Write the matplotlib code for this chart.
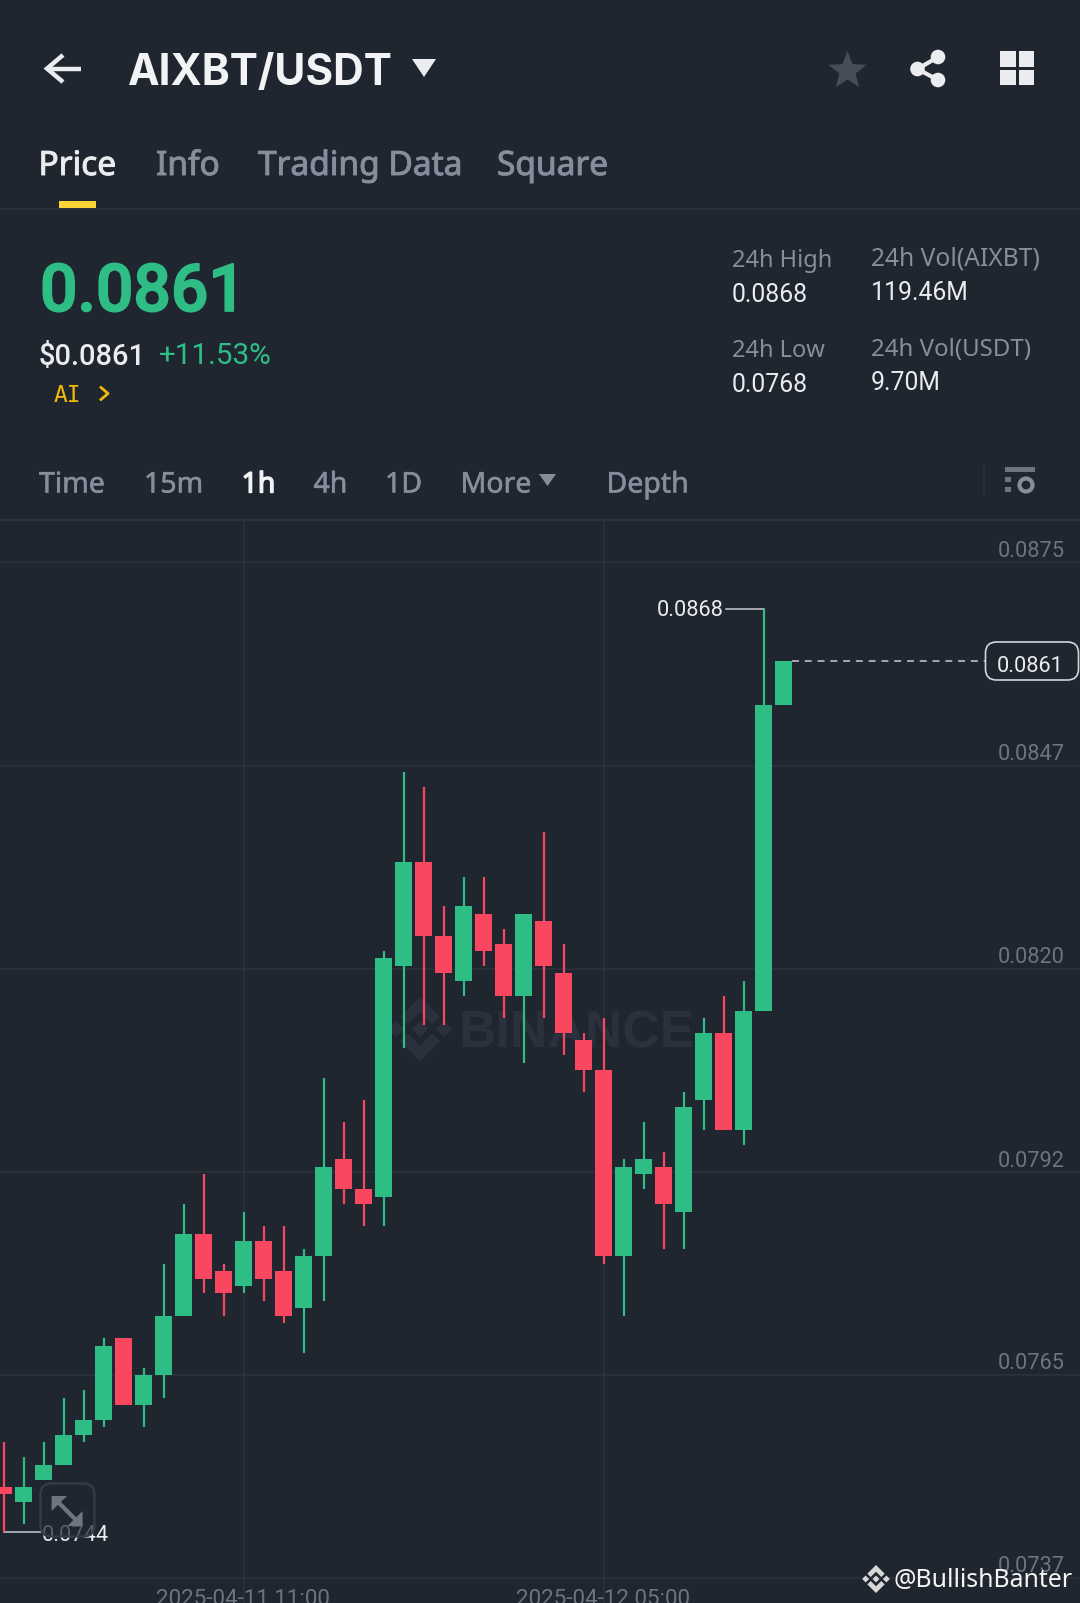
# AIXBT/USDT 1h candles, app screenshot style

import numpy as np
import matplotlib
matplotlib.use("Agg")
import matplotlib.pyplot as plt
import matplotlib.patheffects as pe
from matplotlib.patches import FancyBboxPatch, Polygon, Circle, Rectangle

plt.rcParams["lines.scale_dashes"] = False

open_p = [0.0750, 0.0748, 0.0751, 0.0753, 0.0757, 0.0759, 0.0770, 0.0761, 0.0765, 0.0773,
          0.0784, 0.0779, 0.0777, 0.0783, 0.0779, 0.0774, 0.0781, 0.0794, 0.0790, 0.0789,
          0.0820, 0.0834, 0.0824, 0.0818, 0.0827, 0.0823, 0.0816, 0.0826, 0.0819, 0.0810,
          0.0806, 0.0781, 0.0792, 0.0793, 0.0787, 0.0802, 0.0811, 0.0798, 0.0814, 0.0855]
close_p = [0.0749, 0.0750, 0.0753, 0.0757, 0.0759, 0.0769, 0.0761, 0.0765, 0.0773, 0.0784,
           0.0778, 0.0776, 0.0783, 0.0778, 0.0773, 0.0781, 0.0793, 0.0790, 0.0788, 0.0821,
           0.0834, 0.0824, 0.0819, 0.0828, 0.0822, 0.0816, 0.0827, 0.0820, 0.0811, 0.0806,
           0.0781, 0.0793, 0.0794, 0.0788, 0.0801, 0.0811, 0.0798, 0.0814, 0.0855, 0.0861]
high_p = [0.0756, 0.0754, 0.0756, 0.0762, 0.0763, 0.0770, 0.0770, 0.0766, 0.0780, 0.0788,
          0.0792, 0.0780, 0.0787, 0.0785, 0.0785, 0.0782, 0.0805, 0.0799, 0.0802, 0.0822,
          0.0846, 0.0844, 0.0828, 0.0832, 0.0832, 0.0825, 0.0827, 0.0838, 0.0823, 0.0811,
          0.0813, 0.0794, 0.0799, 0.0795, 0.0803, 0.0813, 0.0816, 0.0818, 0.0868, 0.0861]
low_p = [0.0744, 0.0745, 0.0751, 0.0753, 0.0756, 0.0758, 0.0761, 0.0758, 0.0762, 0.0773,
         0.0776, 0.0773, 0.0776, 0.0775, 0.0772, 0.0768, 0.0775, 0.0788, 0.0785, 0.0785,
         0.0809, 0.0812, 0.0812, 0.0816, 0.0820, 0.0813, 0.0807, 0.0813, 0.0808, 0.0803,
         0.0780, 0.0773, 0.0790, 0.0782, 0.0782, 0.0798, 0.0798, 0.0796, 0.0814, 0.0855]

price_ticks = [0.08742, 0.08469, 0.08196, 0.07923, 0.07651, 0.07378]
price_labels = ["0.0875", "0.0847", "0.0820", "0.0792", "0.0765", "0.0737"]
time_ticks = [12, 30]
time_labels = ["2025-04-11 11:00", "2025-04-12 05:00"]

tabs = ["Price", "Info", "Trading Data", "Square"]
intervals = ["Time", "15m", "1h", "4h", "1D", "More", "Depth"]

BG = "#1F2630"
GRID = "#2B323D"
GREEN = "#2EBD85"
RED = "#F8475F"
WHITE = "#EAECEF"
GRAY = "#848E9C"
DIM = "#6C7480"

W, H = 1080, 1603
fig = plt.figure(figsize=(W / 100, H / 100), dpi=100, facecolor=BG)


def px_axes(z):
    a = fig.add_axes([0, 0, 1, 1], zorder=z)
    a.set_xlim(0, W)
    a.set_ylim(H, 0)
    a.axis("off")
    return a


def logo(a, cx, cy, r, color, z=1):
    # binance mark: centre, two sides, two chevrons
    def diamond(x, y, s):
        a.add_patch(Polygon([(x - s, y), (x, y - s), (x + s, y), (x, y + s)], color=color, lw=0, zorder=z))
    diamond(cx, cy, r * 0.25)
    diamond(cx - r * 0.74, cy, r * 0.25)
    diamond(cx + r * 0.74, cy, r * 0.25)
    for sg in (-1, 1):
        a.add_patch(Polygon([(cx, cy + sg * r), (cx + r * 0.62, cy + sg * r * 0.38),
                             (cx + r * 0.38, cy + sg * r * 0.14), (cx, cy + sg * r * 0.52),
                             (cx - r * 0.38, cy + sg * r * 0.14), (cx - r * 0.62, cy + sg * r * 0.38)],
                            color=color, lw=0, zorder=z))


# watermark goes under the candles
back = px_axes(0)
back.text(458, 1048, "BINANCE", fontsize=37.4, family="Liberation Sans", weight="bold", color="#2A313C", va="baseline")
logo(back, 420, 1029, 32, "#2A313C")

# chart, scaled so one pixel row matches the price labels
PX_PER_PRICE = 74440
ax = fig.add_axes([0, 0, 1, (H - 520) / H], zorder=1)
ax.patch.set_alpha(0)
ax.set_xlim(-0.185, (W - 3.7) / 20)
ax.set_ylim(0.0861 - (H - 660.7) / PX_PER_PRICE, 0.0861 + (660.7 - 520) / PX_PER_PRICE)
for s in ax.spines.values():
    s.set_visible(False)
ax.set_xticks(time_ticks)
ax.set_yticks(price_ticks)
ax.tick_params(length=0, labelleft=False, labelbottom=False)
ax.grid(color=GRID, linewidth=1.1)
ax.set_axisbelow(True)

idx = np.arange(len(open_p))
colors = [GREEN if c >= o else RED for o, c in zip(open_p, close_p)]
ax.vlines(idx, low_p, high_p, colors=colors, linewidth=1.6, zorder=3)
ax.bar(idx, np.array(close_p) - np.array(open_p), bottom=open_p, width=0.875, color=colors, linewidth=0, zorder=3)

for val, lbl in zip(price_ticks, price_labels):
    ax.annotate(lbl, xy=(1, val), xycoords=("axes fraction", "data"), xytext=(-11, 4), textcoords="offset points",
                ha="right", va="baseline", fontsize=15.7, family="Roboto", color=DIM, zorder=2)
for t_, lbl in zip(time_ticks, time_labels):
    ax.annotate(lbl, xy=(t_, 0), xycoords=("data", "axes fraction"), xytext=(-0.5, -1.5), textcoords="offset points",
                ha="center", va="baseline", fontsize=16.1, family="Roboto", color=DIM, annotation_clip=False)

# high and low markers
hi = int(np.argmax(high_p))
lo = int(np.argmin(low_p))
ax.plot([hi - 1.87, hi], [high_p[hi], high_p[hi]], color="#C9CCD1", lw=1.1, zorder=2)
ax.annotate("0.0868", xy=(hi - 2.0, high_p[hi]), xytext=(0, -1.5), textcoords="offset points",
            ha="right", va="center", fontsize=15.7, family="Roboto", color=WHITE)
ax.plot([lo, lo + 1.85], [low_p[lo], low_p[lo]], color="#C9CCD1", lw=1.1, zorder=2)
ax.annotate("0.0744", xy=(lo + 1.9, low_p[lo]), xytext=(0, -2.5), textcoords="offset points",
            ha="left", va="center", fontsize=15.7, family="Roboto", color=WHITE)

# last price
last = close_p[-1]
ax.plot([idx[-1] + 0.43, 49.05], [last, last], color="#C9CCD1", lw=1.1, linestyle=(0, (5, 4.2)), zorder=2)

# everything app-like sits on top in pixel coordinates
ui = px_axes(2)


def t(x, y, s, size, color=GRAY, fam="Noto Sans", weight="normal", ha="left", stroke=0):
    tx = ui.text(x, y, s, fontsize=size, color=color, family=fam, weight=weight, ha=ha, va="baseline")
    if stroke:
        tx.set_path_effects([pe.withStroke(linewidth=stroke, foreground=color)])


ui.add_patch(FancyBboxPatch((989, 645.5), 86, 31, boxstyle="round,pad=3.5,rounding_size=11", fc=BG, ec="#D3D6DB", lw=1.2))
t(1064, 672, "0.0861", 15.7, WHITE, "Roboto", ha="right")

# expand button, half covers the low label
ui.add_patch(FancyBboxPatch((44, 1487), 47, 46, boxstyle="round,pad=3.5,rounding_size=11", fc=BG, alpha=0.72, ec="none"))
ui.add_patch(FancyBboxPatch((44, 1487), 47, 46, boxstyle="round,pad=3.5,rounding_size=11", fc="none", ec="#353C47", lw=1.6))
ui.add_patch(Polygon([(51.6, 1496), (67, 1496), (51.6, 1511)], color="#6E757F", lw=0))
ui.add_patch(Polygon([(82.6, 1526), (67.5, 1526), (82.6, 1511)], color="#6E757F", lw=0))
ui.plot([57, 66.5], [1501, 1510.5], color="#6E757F", lw=3)
ui.plot([68, 77], [1512, 1521], color="#6E757F", lw=3)

# header
ui.plot([47, 81], [68.6, 68.6], color=WHITE, lw=3.2, solid_capstyle="butt")
ui.plot([63, 47, 63], [55, 68.6, 82], color=WHITE, lw=3.2, solid_joinstyle="miter", solid_capstyle="butt")
t(128, 84.5, "AIXBT/USDT", 30.5, "#F2F3F5", "Inter", "bold")
ui.add_patch(Polygon([(412, 59), (436, 59), (424, 77)], color=WHITE, lw=0, joinstyle="round"))

ang = np.arange(10) * np.pi / 5 - np.pi / 2
rad = np.where(np.arange(10) % 2 == 0, 20, 8.5)
ui.add_patch(Polygon(np.c_[847.5 + rad * np.cos(ang), 71 + rad * np.sin(ang)], color="#474D57", lw=0))

share = [(917.5, 69), (938, 57), (938, 80)]
ui.plot([share[1][0], share[0][0], share[2][0]], [share[1][1], share[0][1], share[2][1]], color=WHITE, lw=3)
for c in share:
    ui.add_patch(Circle(c, 7.3, color=WHITE, lw=0))

for gx in (1000, 1018.5):
    for gy in (51, 69.5):
        ui.add_patch(Rectangle((gx, gy), 15.5, 15.5, color=WHITE, lw=0))

for x, s, c in zip([38.5, 156, 258, 497], tabs, [WHITE, GRAY, GRAY, GRAY]):
    t(x, 175, s, 24.1, c, stroke=0.7)
ui.add_patch(Rectangle((59, 200.5), 37, 7.5, color="#FCD535", lw=0))
ui.plot([0, W], [208.6, 208.6], color=GRID, lw=1.2)

t(40, 311, "0.0861", 47.5, GREEN, "Roboto", "medium", stroke=1.3)
t(38.5, 364.5, "$0.0861", 21, WHITE, "Roboto", "medium")
t(159, 364.5, "+11.53%", 21.3, GREEN, "Roboto")
t(53.5, 402, "AI", 16.5, "#F0B90B", "DejaVu Sans Mono")
ui.plot([101, 108, 101], [387.5, 393.5, 399.5], color="#F0B90B", lw=2)

t(731.5, 267, "24h High", 17, GRAY)
t(732, 302.5, "0.0868", 17.8, WHITE, "Roboto")
t(731.5, 357, "24h Low", 17, GRAY)
t(732, 392.5, "0.0768", 17.8, WHITE, "Roboto")
t(871, 265, "24h Vol(AIXBT)", 17.7, GRAY)
t(871, 300.5, "119.46M", 17.8, WHITE, "Roboto")
t(871, 355.5, "24h Vol(USDT)", 17.3, GRAY)
t(871, 390.5, "9.70M", 17.8, WHITE, "Roboto")

for x, s in zip([39, 144, 241.5, 313.5, 385, 460.5, 606.5], intervals):
    if s == "1h":
        t(x, 492.5, s, 20.5, "#F2F3F5", stroke=1)
    else:
        t(x, 492.5, s, 20.5, GRAY, stroke=0.4)
ui.add_patch(Polygon([(539, 474), (556, 474), (547.5, 486)], color=GRAY, lw=0))

ui.plot([983.5, 983.5], [466.5, 495], color=GRID, lw=1.4)
ui.add_patch(Rectangle((1005, 467), 30, 4.5, color="#6C7480", lw=0))
ui.add_patch(Rectangle((1005, 477), 5.5, 5, color="#6C7480", lw=0))
ui.add_patch(Rectangle((1005, 487), 5.5, 5, color="#6C7480", lw=0))
ui.add_patch(Circle((1026, 485), 6.5, fc="none", ec="#848E9C", lw=3))
ui.plot([0, W], [519.5, 519.5], color=GRID, lw=1.7)

# attribution over the chart corner
logo(ui, 876, 1579, 14, "#D8D8D8", 3)
t(893.5, 1587, "@BullishBanter", 17.9, "#F4F4F4", "Noto Sans")

fig.savefig("out.png", dpi=100, facecolor=BG)
